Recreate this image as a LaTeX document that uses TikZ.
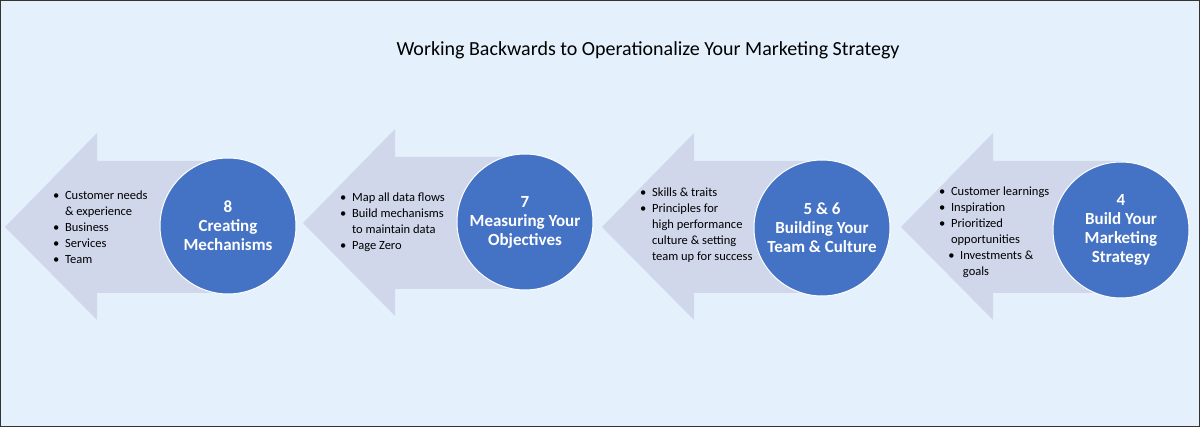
\documentclass[tikz,border=0pt]{standalone}
\usepackage{fontspec}
\setmainfont{Carlito}
\begin{document}
\begin{tikzpicture}[x=1pt,y=-1pt,
  arr/.style={fill=arrowc,draw=none},
  circ/.style={circle,fill=circc,draw=white,line width=1pt,minimum size=136pt,inner sep=0pt,text=white,font=\fontsize{17}{19}\selectfont\bfseries,align=center},
  txt/.style={font=\fontsize{12.5}{16}\selectfont,align=left,anchor=west,inner sep=0pt}]
\definecolor{bgc}{HTML}{E4F1FC}
\definecolor{arrowc}{HTML}{D0D7EB}
\definecolor{circc}{HTML}{4472C4}
\fill[bgc,draw=black!80,line width=0.8pt] (0.5,0.5) rectangle (1199.5,426.5);
\useasboundingbox (0,0) rectangle (1200,427);
\node[font=\fontsize{20}{24}\selectfont] (title) at (648,50) {Working Backwards to Operationalize Your Marketing Strategy};
\foreach \dx/\dy in {0/0,298/-4,597/0,896/0}{
  \fill[arrowc] (5+\dx,227+\dy) -- (97+\dx,133+\dy) -- (97+\dx,161+\dy) -- (225+\dx,161+\dy) -- (225+\dx,293+\dy) -- (97+\dx,293+\dy) -- (97+\dx,320+\dy) -- cycle;
}
\node[circ] (c1) at (228,226) {8\\Creating\\Mechanisms};
\node[circ] (c2) at (525,222) {7\\Measuring Your\\Objectives};
\node[circ] (c3) at (822,228) {5 \& 6\\Building Your\\Team \& Culture};
\node[circ] (c4) at (1121,230) {4\\Build Your\\Marketing\\Strategy};
\node[txt] (t1) at (53,227) {\textbullet\ \ Customer needs\\\phantom{\textbullet\ \ }\& experience\\\textbullet\ \ Business\\\textbullet\ \ Services\\\textbullet\ \ Team};
\node[txt] (t2) at (340,222) {\textbullet\ \ Map all data flows\\\textbullet\ \ Build mechanisms\\\phantom{\textbullet\ \ }to maintain data\\\textbullet\ \ Page Zero};
\node[txt] (t3) at (640,225) {\textbullet\ \ Skills \& traits\\\textbullet\ \ Principles for\\\phantom{\textbullet\ \ }high performance\\\phantom{\textbullet\ \ }culture \& setting\\\phantom{\textbullet\ \ }team up for success};
\node[txt] (t4) at (939,232) {\textbullet\ \ Customer learnings\\\textbullet\ \ Inspiration\\\textbullet\ \ Prioritized\\\phantom{\textbullet\ \ }opportunities\\\phantom{\textbullet\ }\textbullet\ \ Investments \&\\\phantom{\textbullet\ \ \textbullet\ \ }goals};
\end{tikzpicture}
\end{document}
